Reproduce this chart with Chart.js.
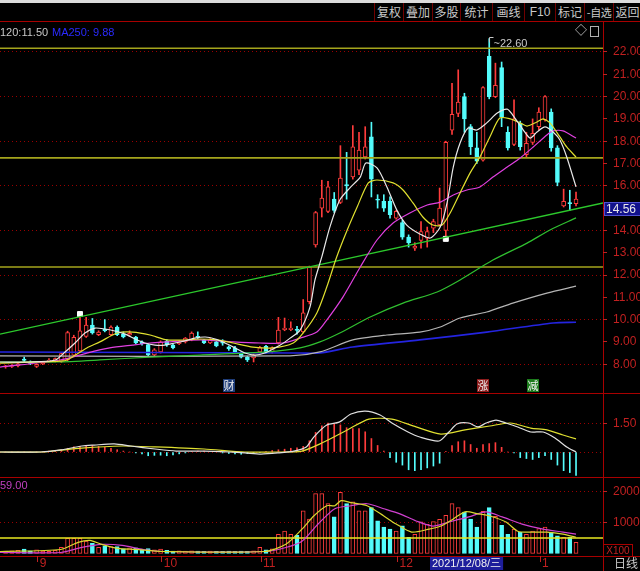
<!DOCTYPE html>
<html>
<head>
<meta charset="utf-8">
<title>K线</title>
<script src="https://cdn.jsdelivr.net/npm/chart.js@4.4.1/dist/chart.umd.min.js"></script>
<style>
  body { margin: 0; background: #000; width: 640px; height: 571px; overflow: hidden; position: relative; font-family: "Liberation Sans", "Noto Sans CJK SC", sans-serif; }
  canvas { position: absolute; left: 0; }
  .rule { position: absolute; background: #a80000; }
  .btn { position: absolute; top: 3px; height: 18px; line-height: 18px; font-size: 12px; color: #c8c8c8; text-align: center; white-space: nowrap; border-left: 1px solid #700000; font-family: "Noto Sans CJK SC", sans-serif; }
  .txt { position: absolute; font-size: 11px; white-space: nowrap; line-height: 12px; }
</style>
</head>
<body>
<div style="position:absolute;left:0;top:0;width:640px;height:3px;background:#dcdcdc"></div>
<div class="btn" style="left:374px;width:28px">复权</div>
<div class="btn" style="left:403px;width:28px">叠加</div>
<div class="btn" style="left:432px;width:27px">多股</div>
<div class="btn" style="left:460px;width:31px">统计</div>
<div class="btn" style="left:492px;width:31px">画线</div>
<div class="btn" style="left:524px;width:30px;font-family:'Liberation Sans'">F10</div>
<div class="btn" style="left:555px;width:28px">标记</div>
<div class="btn" style="left:584px;width:28px;font-size:11px;letter-spacing:-0.5px">-自选</div>
<div class="btn" style="left:613px;width:27px">返回</div>

<div class="rule" style="left:0;top:21px;width:640px;height:1px"></div>
<div class="rule" style="left:0;top:393px;width:640px;height:1px"></div>
<div class="rule" style="left:0;top:477px;width:640px;height:1px"></div>
<div class="rule" style="left:0;top:556px;width:640px;height:1px"></div>
<div class="rule" style="left:603px;top:21px;width:1px;height:550px"></div>

<canvas id="price" width="640" height="370" style="top:23px"></canvas>
<canvas id="macd" width="640" height="83" style="top:394px"></canvas>
<canvas id="vol" width="640" height="93" style="top:478px"></canvas>

<div class="txt" style="left:0;top:26px;color:#c8c8c8">120:11.50</div>
<div class="txt" style="left:52px;top:26px;color:#2a2aff">MA250: 9.88</div>
<div class="txt" style="left:575px;top:25px;color:#c8c8c8;font-size:12px">◇</div>
<div style="position:absolute;left:590px;top:26px;width:7px;height:9px;border:1px solid #b0b0b0"></div>
<div class="txt" style="left:0;top:479px;color:#c040c0">59.00</div>
<div style="position:absolute;left:603px;top:544px;width:28px;height:11px;border:1px solid #a80000;color:#c02020;font-size:10px;line-height:11px;text-align:center">X100</div>
<div class="txt" style="left:614px;top:557px;color:#c8c8c8;font-size:12px;font-family:'Noto Sans CJK SC'">日线</div>

<script>
// K线数据 (索引 0 = 8月下旬, 92 = 1月11日)
const opens  = [7.88,7.90,7.92,8.22,8.10,7.90,8.02,8.16,8.15,8.12,8.20,8.40,8.60,9.25,9.75,9.32,9.56,9.32,9.67,9.35,
                9.31,9.22,9.00,8.88,8.42,8.55,9.04,8.86,8.92,9.00,9.09,9.24,9.09,8.96,9.00,8.98,8.78,8.73,8.50,8.32,
                8.28,8.55,8.80,8.55,8.95,9.55,9.55,9.55,9.45,10.80,13.35,15.00,14.85,15.40,15.25,16.05,16.40,16.70,17.30,18.20,
                15.40,15.30,15.30,14.55,14.35,13.70,13.20,13.55,13.65,14.10,14.25,14.00,18.50,19.25,20.00,18.65,17.70,17.15,21.80,20.00,
                21.30,18.40,17.85,18.80,17.40,17.95,18.65,18.95,19.30,17.70,15.10,15.25,15.20];
const highs  = [7.95,7.98,8.05,8.32,8.15,8.02,8.12,8.25,8.28,8.52,9.48,9.30,10.25,10.10,10.05,9.50,10.00,9.72,9.72,9.45,
                9.50,9.25,9.05,8.90,8.70,9.05,9.10,8.90,9.05,9.20,9.45,9.45,9.12,9.15,9.05,9.10,8.82,8.80,8.55,8.36,
                8.45,8.80,8.85,8.78,10.10,10.07,9.90,9.70,10.90,12.40,14.85,16.25,16.20,15.70,17.80,17.50,18.70,18.40,18.65,18.85,
                15.60,15.60,15.50,14.90,14.45,13.80,13.45,14.40,14.15,14.50,15.90,18.00,20.60,21.20,20.15,18.75,18.40,20.45,22.60,21.50,
                21.55,18.65,19.85,18.90,18.40,19.00,19.50,20.05,19.45,17.80,15.85,15.80,15.72];
const lows   = [7.82,7.85,7.88,8.10,7.98,7.85,7.98,8.10,8.10,8.08,8.15,8.35,8.55,9.20,9.35,9.28,9.45,9.28,9.28,9.18,
                9.25,8.92,8.85,8.38,8.38,8.50,8.80,8.68,8.88,8.95,9.05,9.15,8.92,8.92,8.78,8.85,8.62,8.50,8.28,8.12,
                8.10,8.50,8.50,8.50,8.90,9.50,9.50,9.35,9.40,10.70,13.25,14.60,14.80,14.80,15.20,15.40,16.30,16.50,17.20,15.50,
                15.00,14.85,14.55,14.50,13.60,13.25,13.10,13.20,13.25,13.90,14.20,13.75,18.30,19.10,18.40,17.40,17.00,17.10,19.90,19.95,
                18.65,17.60,17.80,17.60,17.30,17.85,18.50,18.90,17.55,16.00,15.05,14.90,15.10];
const closes = [7.92,7.95,8.02,8.18,8.03,8.00,8.10,8.16,8.25,8.48,9.42,9.20,9.50,9.75,9.40,9.44,9.50,9.67,9.32,9.22,
                9.38,8.96,8.92,8.42,8.64,9.00,8.86,8.73,9.00,9.17,9.40,9.22,8.96,9.09,8.82,8.96,8.68,8.55,8.32,8.19,
                8.41,8.75,8.55,8.73,9.53,9.62,9.62,9.52,10.30,12.36,14.80,15.45,15.95,14.90,16.35,16.00,17.75,17.60,17.75,16.30,
                15.35,15.00,14.70,14.85,13.70,13.45,13.30,13.95,13.95,14.40,15.00,17.95,19.20,19.75,19.00,17.75,17.10,20.40,20.00,20.50,
                19.10,17.70,19.00,17.75,17.90,18.35,19.30,20.00,17.70,16.15,15.30,15.20,15.40];

// 成交量 (手/100)
const volumes = [800,900,1000,1400,900,1200,800,700,1000,2000,4900,4900,4900,4000,3300,2000,2500,2200,2200,1500,
                 1800,1800,1400,1600,1200,1400,1000,800,900,800,900,800,700,800,700,700,800,700,800,700,
                 900,2000,1200,1500,6200,7200,6200,5900,13800,11100,19300,19300,16100,11800,19700,16100,16700,13800,13800,14800,
                 10500,8500,7900,7200,8900,5200,6200,10200,9400,10300,11000,12300,16100,14800,13400,11100,8500,13600,14800,12000,
                 9100,6200,7900,6800,6200,7200,8000,8500,6800,5700,5200,5200,3600];

// MACD 柱
const macdHist = [0,0,0,0,0,0,0,0.05,0.08,0.12,0.2,0.28,0.3,0.33,0.35,0.3,0.25,0.2,0.12,0.05,
                  0,-0.05,-0.1,-0.2,-0.18,-0.17,-0.2,-0.15,-0.1,-0.05,0.03,0.05,0.05,0.03,0.02,-0.05,-0.08,-0.1,-0.12,-0.08,
                  -0.05,-0.03,0.02,0.08,0.12,0.15,0.2,0.22,0.3,0.6,1.05,1.4,1.55,1.5,1.45,1.3,1.25,1.25,1.08,0.72,
                  0.35,0.05,-0.3,-0.55,-0.7,-0.95,-1.0,-0.95,-0.85,-0.75,-0.6,0.03,0.35,0.55,0.6,0.4,0.2,0.4,0.45,0.5,
                  0.25,0,-0.05,-0.3,-0.35,-0.4,-0.3,-0.2,-0.4,-0.7,-1.0,-1.1,-1.25];

// 均线 [索引, 价格]
const ma5Pts = [[-0.9,8.10],[3.9,8.10],[8,8.19],[9.6,8.55],[11.2,8.95],[12.8,9.40],[14.4,9.62],[16,9.58],[17.6,9.49],[19.3,9.35],
  [20.9,9.13],[22.5,8.95],[24.1,8.86],[25.7,8.86],[27.3,8.95],[28.9,9.04],[30.5,9.17],[32.2,9.22],[33.8,9.13],[35.4,8.95],
  [37,8.73],[38.6,8.50],[40.2,8.41],[41.8,8.50],[44.3,8.86],[45.9,9.17],[47.5,9.53],[49.1,10.57],[49.9,11.78],[51,12.81],
  [52.3,14.15],[53.9,15.36],[55.5,15.90],[57.2,16.39],[58.1,17.02],[59.9,16.80],[61.5,15.95],[63.1,14.91],[64.7,14.24],[66.8,13.84],
  [68.5,13.66],[70.1,14.15],[71.2,15.23],[72.2,16.84],[73.3,17.92],[74.6,18.59],[76,18.50],[77.6,18.82],[79.3,19.26],[80.9,19.44],
  [81.8,19.17],[83.5,18.50],[84.6,18.14],[85.7,18.41],[87,18.64],[88.3,18.41],[89.4,18.05],[90.5,17.29],[92,15.95]];
const ma10Pts = [[-0.9,8.05],[8.8,8.14],[9.9,8.19],[13.1,8.73],[15.2,9.0],[18,9.40],[20.5,9.44],[23.3,9.31],[26,9.09],[29.3,9.09],
  [31.4,9.13],[34.1,9.09],[36.7,8.95],[39.9,8.77],[43.1,8.73],[46.4,8.95],[48,9.40],[50.2,10.30],[51.8,11.46],[53.4,12.81],
  [55.1,14.02],[56.7,15.05],[58.5,16.13],[59.9,16.26],[62.5,16.13],[64.1,15.81],[65.7,15.23],[67.3,14.60],[68.9,14.24],[70.4,14.24],
  [71.7,14.78],[73.3,15.68],[74.9,16.57],[76.5,17.29],[78.1,18.19],[79.7,19.04],[81.4,19.0],[83,18.82],[84.1,18.68],[85.7,18.86],
  [86.7,19.0],[87.8,18.82],[89.4,18.19],[90.5,17.74],[92,17.29]];
const ma20Pts = [[-0.9,7.87],[8.8,8.19],[13.1,8.50],[16.8,8.73],[20.5,8.86],[23.3,8.95],[26,9.0],[31.4,9.09],[36.7,9.0],[41,8.95],
  [44.7,8.95],[47.5,9.17],[50.2,9.44],[51.8,9.98],[54.4,11.01],[57.2,12.36],[59.9,13.57],[62.5,14.33],[65.2,14.78],[68,15.14],
  [70.1,15.27],[72.2,15.59],[74.4,15.81],[76.5,15.95],[78.6,16.39],[80.9,16.84],[83,17.25],[85.1,17.74],[87.3,18.28],[88.3,18.46],
  [89.9,18.46],[92,18.14]];
const ma60Pts = [[-0.9,8.10],[8.3,8.10],[15.2,8.19],[23.3,8.32],[31.4,8.41],[42.2,8.55],[47.5,8.73],[50.7,9.0],[53.9,9.40],[58.8,10.12],
  [64.1,10.74],[69.6,11.24],[73.3,11.78],[78.6,12.67],[84.1,13.43],[87.8,14.02],[92,14.56]];
const ma120Pts = [[-0.9,8.37],[45.9,8.37],[50.7,8.55],[56,9.09],[61.5,9.31],[66.8,9.44],[70.1,9.67],[73.3,10.07],[77.6,10.34],[81.8,10.74],
  [87.3,11.19],[92,11.50]];
const ma250Pts = [[-0.9,8.55],[47.5,8.50],[50.7,8.50],[56,8.77],[66.8,9.09],[77.6,9.44],[88.3,9.85],[92,9.88]];

// MACD 线
const difPts = [[-0.9,0],[5.7,0],[8.9,0.11],[12.3,0.32],[14.3,0.37],[17.5,0.43],[20.2,0.32],[24.1,0.16],[27.5,0.05],[32,0.05],
  [36,0],[38.6,-0.05],[41.2,-0.11],[43.9,-0.05],[46.5,0.05],[48.5,0.27],[49.7,0.80],[51.8,1.44],[53.8,1.60],[55.7,2.03],
  [58,2.19],[60.4,1.98],[62.3,1.55],[64.9,1.07],[66.8,0.80],[69.9,0.59],[71.5,1.07],[72.8,1.50],[74.7,1.55],[76.2,1.34],
  [77.5,1.55],[79.1,1.71],[80.7,1.55],[82.6,1.34],[84.7,1.07],[86.7,1.07],[88.6,0.75],[90.5,0.27],[92,0]];
const deaPts = [[-0.9,0],[5.7,0],[12.3,0.21],[18.8,0.32],[24.1,0.27],[32,0.16],[38.6,0],[43.9,0],[47.8,0.05],[51,0.48],
  [55.1,1.18],[58.6,1.76],[62.3,1.76],[66.2,1.34],[70.2,0.96],[74.1,1.18],[78.1,1.39],[81.4,1.55],[84.7,1.28],[87.3,1.18],
  [89.9,0.91],[92,0.70]];

// 成交量均线
const volMa5Pts = [[-0.9,650],[8.9,1300],[11.7,3600],[13.6,4250],[15.5,2950],[18.1,1650],[20.9,1300],[25.4,650],[41.8,650],[45.2,2950],
  [47.8,7850],[49.7,12100],[51.8,15400],[53.1,15400],[54.1,17050],[55.7,16400],[58.3,15400],[61,12100],[63,9500],[65.5,6900],
  [68.3,7850],[70.2,8850],[72.2,11150],[74.1,13450],[76.2,12800],[78.1,12100],[80.7,10150],[82.6,7200],[84.7,6900],[87.3,6900],
  [89.9,6250],[92,5250]];
const volMa10Pts = [[-0.9,330],[8.9,330],[12.3,1950],[15.5,2950],[18.8,2600],[22.2,1300],[25.4,650],[41.8,650],[45.2,1950],[47.8,3950],
  [50.4,9500],[53.1,14450],[55.7,15400],[58.3,16050],[61,14450],[63.6,12800],[66.2,10500],[68.9,8850],[71.5,10150],[74.7,11800],
  [77.5,13450],[80.1,11800],[83.3,9500],[86.7,7850],[89.9,6900],[92,6250]];

// 画线
const levelLines = [22.17, 17.25, 12.36];
const trendPts = [[-0.9, 9.35], [96.35, 15.23]];
const volLevel = 5000;
const squareMarks = [[12, 10.25], [71, 13.62]];
const peakIndex = 78;
const eventIdx = [36, 77, 85];
const eventText = ['财', '涨', '减'];
const eventBg = ['#1e3c78', '#8c1c1c', '#1c7c1c'];
const priceTagText = '14.56';
const priceTagLevel = 14.95;

// 坐标轴
const xMin = -0.9, xMax = 96.35;
const priceTicks = [8,9,10,11,12,13,14,15,16,17,18,19,20,21,22];
const macdTicks = [0, 1.5];
const volTicks = [10000, 20000];
const monthTicks = [5.2, 25.2, 41.2, 63.2, 86.2];
const monthLabels = ['9', '10', '11', '12', '1'];
const cursorIndex = 69;
const cursorLabel = '2021/12/08/三';

const RED = '#ff3c3c', CYAN = '#54fcfc', AXIS = '#c02020';
const isUp = closes.map((c, i) => c >= opens[i]);
const pts = arr => arr.map(([x, y]) => ({ x, y }));

function xAxis() {
  return { type: 'linear', min: xMin, max: xMax, offset: false, display: false, grid: { offset: false } };
}

function rightAxis(min, max, tickValues, label, gridOn) {
  return {
    type: 'linear', position: 'right', min, max,
    afterFit: s => { s.width = 37; s.paddingTop = 0; s.paddingBottom = 0; },
    afterBuildTicks: s => { s.ticks = tickValues.map(v => ({ value: v })); },
    border: { display: false, dash: [1, 3] },
    grid: {
      color: c => (c.tick && gridOn(c.tick.value)) ? '#9a0000' : 'rgba(0,0,0,0)',
      tickColor: c => (c.tick && label(c.tick.value)) ? AXIS : 'rgba(0,0,0,0)',
      drawTicks: true, tickLength: 4, tickBorderDash: []
    },
    ticks: { color: AXIS, font: { family: 'Liberation Sans', size: 12 }, padding: 6, callback: v => label(v) }
  };
}

function line(data, color, width) {
  return { type: 'line', data: pts(data), borderColor: color, borderWidth: width || 1.2, pointRadius: 0, tension: 0.25, order: 0 };
}

const baseOptions = {
  responsive: false, animation: false, events: [],
  layout: { padding: 0, autoPadding: false },
  plugins: { legend: { display: false }, tooltip: { enabled: false } }
};

// 主图
const priceExtras = {
  id: 'priceExtras',
  afterDatasetsDraw(chart) {
    const { ctx, scales: { x, y }, chartArea } = chart;
    ctx.save();
    const px = Math.round(x.getPixelForValue(peakIndex)) + 0.5;
    const py = Math.round(y.getPixelForValue(highs[peakIndex])) + 0.5;
    ctx.strokeStyle = '#c8c8c8';
    ctx.lineWidth = 1;
    ctx.beginPath();
    ctx.moveTo(px, py + 3); ctx.lineTo(px, py - 2); ctx.lineTo(px + 4, py - 2);
    ctx.stroke();
    ctx.fillStyle = '#c8c8c8';
    ctx.font = '11px "Liberation Sans"';
    ctx.textBaseline = 'middle';
    ctx.fillText('~' + highs[peakIndex].toFixed(2), px + 4, py + 4);

    ctx.font = '11px "Noto Sans CJK SC"';
    ctx.textAlign = 'center';
    eventIdx.forEach((idx, k) => {
      const ex = Math.round(x.getPixelForValue(idx));
      const ey = chartArea.bottom - 14;
      ctx.fillStyle = eventBg[k];
      ctx.fillRect(ex - 6, ey, 12, 13);
      ctx.fillStyle = '#f0f0f0';
      ctx.fillText(eventText[k], ex, ey + 7);
    });
    ctx.restore();
  },
  afterDraw(chart) {
    const { ctx, scales: { y }, chartArea } = chart;
    const ty = Math.round(y.getPixelForValue(priceTagLevel));
    ctx.save();
    ctx.fillStyle = '#12128c';
    ctx.fillRect(chartArea.right + 1, ty - 7, 37, 14);
    ctx.strokeStyle = '#5050d0';
    ctx.strokeRect(chartArea.right + 1.5, ty - 6.5, 37, 13);
    ctx.fillStyle = '#e8e8e8';
    ctx.font = '12px "Liberation Sans"';
    ctx.textBaseline = 'middle';
    ctx.fillText(priceTagText, chartArea.right + 3, ty + 0.5);
    ctx.restore();
  }
};

new Chart(document.getElementById('price'), {
  type: 'bar',
  data: {
    datasets: [
      line(ma5Pts, '#e8e8e8'),
      line(ma10Pts, '#e0e030'),
      line(ma20Pts, '#e040e0'),
      line(ma60Pts, '#30c030'),
      line(ma120Pts, '#b4b4b4'),
      line(ma250Pts, '#2424e0', 1.6),
      line(trendPts, '#2cc82c', 1.3),
      ...levelLines.map(v => ({ type: 'line', data: [{ x: xMin, y: v }, { x: xMax, y: v }], borderColor: '#a4a41c', borderWidth: 1.6, pointRadius: 0, order: 0 })),
      { type: 'line', data: pts(squareMarks), showLine: false, pointStyle: 'rect', pointRadius: 3.5, pointBackgroundColor: '#ffffff', pointBorderColor: '#ffffff', order: 0 },
      {
        type: 'bar', order: 1, grouped: false, barThickness: 4, borderWidth: 1, borderSkipped: false,
        data: opens.map((o, i) => {
          let lo = Math.min(o, closes[i]), hi = Math.max(o, closes[i]);
          if (hi - lo < 0.05) { const m = (hi + lo) / 2; lo = m - 0.025; hi = m + 0.025; }
          return { x: i, y: [lo, hi] };
        }),
        backgroundColor: isUp.map(u => u ? '#000000' : CYAN),
        borderColor: isUp.map(u => u ? RED : CYAN)
      },
      {
        type: 'bar', order: 2, grouped: false, barThickness: 1, borderWidth: 0,
        data: highs.map((h, i) => ({ x: i, y: [lows[i], h] })),
        backgroundColor: isUp.map(u => u ? RED : CYAN)
      }
    ]
  },
  options: Object.assign({}, baseOptions, {
    scales: {
      x: xAxis(),
      y: rightAxis(6.709, 23.3, priceTicks, v => v.toFixed(2), v => v % 2 === 0)
    }
  }),
  plugins: [priceExtras]
});

// MACD
new Chart(document.getElementById('macd'), {
  type: 'bar',
  data: {
    datasets: [
      line(difPts, '#e0e0e0'),
      line(deaPts, '#e0e030'),
      {
        type: 'bar', order: 1, grouped: false, barThickness: 1, borderWidth: 0,
        data: macdHist.map((v, i) => ({ x: i, y: v })),
        backgroundColor: macdHist.map(v => v >= 0 ? RED : CYAN)
      }
    ]
  },
  options: Object.assign({}, baseOptions, {
    scales: {
      x: xAxis(),
      y: rightAxis(-1.337, 3.102, macdTicks, v => v === 0 ? '' : v.toFixed(2), () => true)
    }
  })
});

// 成交量
const volExtras = {
  id: 'volExtras',
  afterDraw(chart) {
    const { ctx, scales: { x }, chartArea } = chart;
    const cx = Math.round(x.getPixelForValue(cursorIndex)) - 3;
    ctx.save();
    ctx.font = '11px "Liberation Sans", "Noto Sans CJK SC"';
    const w = ctx.measureText(cursorLabel).width + 4;
    ctx.fillStyle = '#1e1e9c';
    ctx.fillRect(cx, chartArea.bottom + 1, w, 13);
    ctx.fillStyle = '#f0f0f0';
    ctx.textBaseline = 'middle';
    ctx.fillText(cursorLabel, cx + 2, chartArea.bottom + 8);
    ctx.restore();
  }
};

const volX = Object.assign(xAxis(), {
  display: true, position: 'bottom',
  afterFit: s => { s.height = 15; s.paddingLeft = 0; s.paddingRight = 0; },
  afterBuildTicks: s => { s.ticks = monthTicks.map(v => ({ value: v })); },
  border: { display: false },
  grid: { offset: false, drawOnChartArea: false, drawTicks: true, tickLength: 6, tickColor: AXIS },
  ticks: { autoSkip: false, maxRotation: 0, align: 'start', labelOffset: 2, padding: -6, color: AXIS,
           font: { family: 'Liberation Sans', size: 12 }, callback: (v, i) => monthLabels[i] }
});

new Chart(document.getElementById('vol'), {
  type: 'bar',
  data: {
    datasets: [
      line(volMa5Pts, '#d8d830'),
      line(volMa10Pts, '#d040d0'),
      { type: 'line', data: [{ x: xMin, y: volLevel }, { x: xMax, y: volLevel }], borderColor: '#e8e820', borderWidth: 1.5, pointRadius: 0, order: 0 },
      {
        type: 'bar', order: 1, grouped: false, barThickness: 4, borderWidth: 1, borderSkipped: false,
        data: volumes.map((v, i) => ({ x: i, y: v })),
        backgroundColor: isUp.map(u => u ? '#000000' : CYAN),
        borderColor: isUp.map(u => u ? RED : CYAN)
      }
    ]
  },
  options: Object.assign({}, baseOptions, {
    scales: {
      x: volX,
      y: rightAxis(-806, 24355, volTicks, v => String(v), () => true)
    }
  }),
  plugins: [volExtras]
});
</script>
</body>
</html>
